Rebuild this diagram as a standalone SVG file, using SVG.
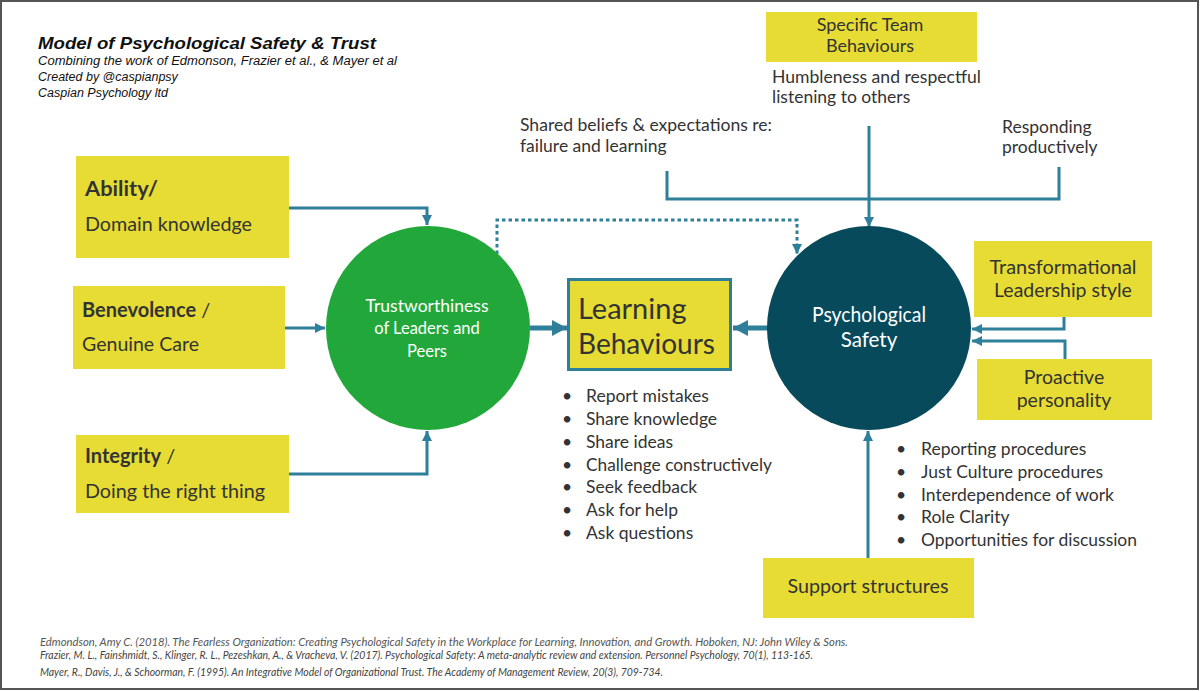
<svg xmlns="http://www.w3.org/2000/svg" width="1200" height="691" viewBox="0 0 1200 691">
<style>
.box{fill:#e6dc34}
.t{font-family:Lato,"Open Sans",sans-serif;fill:#333333}
.w{font-family:Lato,"Open Sans",sans-serif;fill:#ffffff}
.hd{font-family:"Liberation Sans",Arial,sans-serif;font-style:italic;fill:#111111}
.ref{font-family:Lato,"Open Sans",sans-serif;font-style:italic}
.c{fill:none;stroke:#2e7f99;stroke-width:3}
</style>
<defs>
<marker id="a" markerUnits="userSpaceOnUse" markerWidth="11" markerHeight="10" refX="10" refY="5" orient="auto">
<path d="M0,0 L10,5 L0,10 z" fill="#2e7f99"/>
</marker>
<marker id="A" markerUnits="userSpaceOnUse" markerWidth="16" markerHeight="16" refX="15" refY="8" orient="auto">
<path d="M0,0 L15,8 L0,16 z" fill="#2e7f99"/>
</marker>
</defs>
<rect x="1" y="1" width="1197" height="688" fill="#ffffff" stroke="#555555" stroke-width="2"/>

<g id="title">
<text class="hd" x="38" y="49" font-size="17" font-weight="bold" textLength="338" lengthAdjust="spacingAndGlyphs">Model of Psychological Safety &amp; Trust</text>
<text class="hd" x="38" y="65" font-size="12.5" textLength="359" lengthAdjust="spacingAndGlyphs">Combining the work of Edmonson, Frazier et al., &amp; Mayer et al</text>
<text class="hd" x="38" y="81" font-size="12.5">Created by @caspianpsy</text>
<text class="hd" x="38" y="97" font-size="12.5">Caspian Psychology ltd</text>
</g>

<g id="connectors">
<polyline class="c" points="289,208 427,208 427,225" marker-end="url(#a)"/>
<line class="c" x1="285" y1="328" x2="325" y2="328" marker-end="url(#a)"/>
<polyline class="c" points="289,474 427,474 427,431" marker-end="url(#a)"/>
<polyline class="c" points="497,254 497,220 797,220 797,254" stroke-width="3.5" stroke-dasharray="3.5 3" marker-end="url(#a)"/>
<line x1="530" y1="328" x2="567" y2="328" stroke="#2e7f99" stroke-width="5" marker-end="url(#A)"/>
<line x1="768" y1="328" x2="733" y2="328" stroke="#2e7f99" stroke-width="5" marker-end="url(#A)"/>
<line class="c" x1="869" y1="126" x2="869" y2="227" marker-end="url(#a)"/>
<polyline class="c" points="667,171 667,199 1059,199 1059,167"/>
<polyline class="c" points="1064,317 1064,329 972,329" marker-end="url(#a)"/>
<polyline class="c" points="1065,359 1065,341 972,341" marker-end="url(#a)"/>
<line class="c" x1="868" y1="558" x2="868" y2="431" marker-end="url(#a)"/>
</g>

<g id="ability">
<rect class="box" x="76" y="156" width="213" height="102"/>
<text class="t" x="85" y="196" font-size="20" font-weight="bold" textLength="73" lengthAdjust="spacingAndGlyphs">Ability/</text>
<text class="t" x="85" y="231" font-size="20" textLength="167" lengthAdjust="spacingAndGlyphs">Domain knowledge</text>
</g>
<g id="benevolence">
<rect class="box" x="73" y="286" width="212" height="83"/>
<text class="t" x="82" y="317" font-size="20"><tspan font-weight="bold">Benevolence</tspan> /</text>
<text class="t" x="82" y="351" font-size="20" textLength="117" lengthAdjust="spacingAndGlyphs">Genuine Care</text>
</g>
<g id="integrity">
<rect class="box" x="76" y="435" width="213" height="78"/>
<text class="t" x="85" y="463" font-size="20"><tspan font-weight="bold">Integrity</tspan> /</text>
<text class="t" x="85" y="498" font-size="20" textLength="180" lengthAdjust="spacingAndGlyphs">Doing the right thing</text>
</g>

<g id="trustworthiness">
<circle cx="428" cy="328" r="102" fill="#22a83a"/>
<text class="w" x="427" y="312" font-size="16.5" text-anchor="middle" textLength="123" lengthAdjust="spacingAndGlyphs">Trustworthiness</text>
<text class="w" x="427" y="334" font-size="16.5" text-anchor="middle">of Leaders and</text>
<text class="w" x="427" y="357" font-size="16.5" text-anchor="middle">Peers</text>
</g>

<g id="learning">
<rect x="568.5" y="279.5" width="162" height="90" fill="#e6dc34" stroke="#2e7f99" stroke-width="3"/>
<text class="t" x="578" y="319" font-size="29">Learning</text>
<text class="t" x="578" y="354" font-size="29" textLength="137" lengthAdjust="spacingAndGlyphs">Behaviours</text>
</g>

<g id="learning-list" class="t" font-size="17.5">
<text x="562" y="402">•</text><text x="586" y="402">Report mistakes</text>
<text x="562" y="425">•</text><text x="586" y="425">Share knowledge</text>
<text x="562" y="448">•</text><text x="586" y="448">Share ideas</text>
<text x="562" y="471">•</text><text x="586" y="471" textLength="186" lengthAdjust="spacingAndGlyphs">Challenge constructively</text>
<text x="562" y="493">•</text><text x="586" y="493">Seek feedback</text>
<text x="562" y="516">•</text><text x="586" y="516">Ask for help</text>
<text x="562" y="539">•</text><text x="586" y="539">Ask questions</text>
</g>

<g id="psych-safety">
<circle cx="869" cy="328" r="102" fill="#074a5c"/>
<text class="w" x="869" y="322" font-size="20.5" text-anchor="middle" textLength="114" lengthAdjust="spacingAndGlyphs">Psychological</text>
<text class="w" x="869" y="347" font-size="20.5" text-anchor="middle">Safety</text>
</g>

<g id="team">
<rect class="box" x="766" y="12" width="211" height="50"/>
<text class="t" x="870" y="31" font-size="18" text-anchor="middle">Specific Team</text>
<text class="t" x="870" y="52" font-size="18" text-anchor="middle">Behaviours</text>
</g>
<g id="team-labels" class="t" font-size="17.5">
<text x="772" y="83" textLength="209" lengthAdjust="spacingAndGlyphs">Humbleness and respectful</text>
<text x="772" y="103">listening to others</text>
<text x="520" y="131" textLength="252" lengthAdjust="spacingAndGlyphs">Shared beliefs &amp; expectations re:</text>
<text x="520" y="152">failure and learning</text>
<text x="1002" y="133">Responding</text>
<text x="1002" y="153">productively</text>
</g>

<g id="transformational">
<rect class="box" x="974" y="241" width="178" height="76"/>
<text class="t" x="1063" y="274" font-size="19.5" text-anchor="middle" textLength="147" lengthAdjust="spacingAndGlyphs">Transformational</text>
<text class="t" x="1063" y="297" font-size="19.5" text-anchor="middle">Leadership style</text>
</g>
<g id="proactive">
<rect class="box" x="977" y="359" width="175" height="61"/>
<text class="t" x="1064" y="384" font-size="19.5" text-anchor="middle">Proactive</text>
<text class="t" x="1064" y="407" font-size="19.5" text-anchor="middle">personality</text>
</g>

<g id="support">
<rect class="box" x="763" y="558" width="211" height="60"/>
<text class="t" x="868" y="593" font-size="19.5" text-anchor="middle" textLength="161" lengthAdjust="spacingAndGlyphs">Support structures</text>
</g>
<g id="support-list" class="t" font-size="17.5">
<text x="896" y="455">•</text><text x="921" y="455">Reporting procedures</text>
<text x="896" y="478">•</text><text x="921" y="478">Just Culture procedures</text>
<text x="896" y="501">•</text><text x="921" y="501">Interdependence of work</text>
<text x="896" y="523">•</text><text x="921" y="523">Role Clarity</text>
<text x="896" y="546">•</text><text x="921" y="546" textLength="216" lengthAdjust="spacingAndGlyphs">Opportunities for discussion</text>
</g>

<g id="references">
<text class="ref" x="40" y="646" font-size="11.5" fill="#555555" textLength="808" lengthAdjust="spacingAndGlyphs">Edmondson, Amy C. (2018). The Fearless Organization: Creating Psychological Safety in the Workplace for Learning, Innovation, and Growth. Hoboken, NJ: John Wiley &amp; Sons.</text>
<text class="ref" x="40" y="659" font-size="10.5" fill="#444444" textLength="773" lengthAdjust="spacingAndGlyphs">Frazier, M. L., Fainshmidt, S., Klinger, R. L., Pezeshkan, A., &amp; Vracheva, V. (2017). Psychological Safety: A meta-analytic review and extension. Personnel Psychology, 70(1), 113-165.</text>
<text class="ref" x="40" y="676" font-size="10.5" fill="#444444" textLength="623" lengthAdjust="spacingAndGlyphs">Mayer, R., Davis, J., &amp; Schoorman, F. (1995). An Integrative Model of Organizational Trust. The Academy of Management Review, 20(3), 709-734.</text>
</g>
</svg>
